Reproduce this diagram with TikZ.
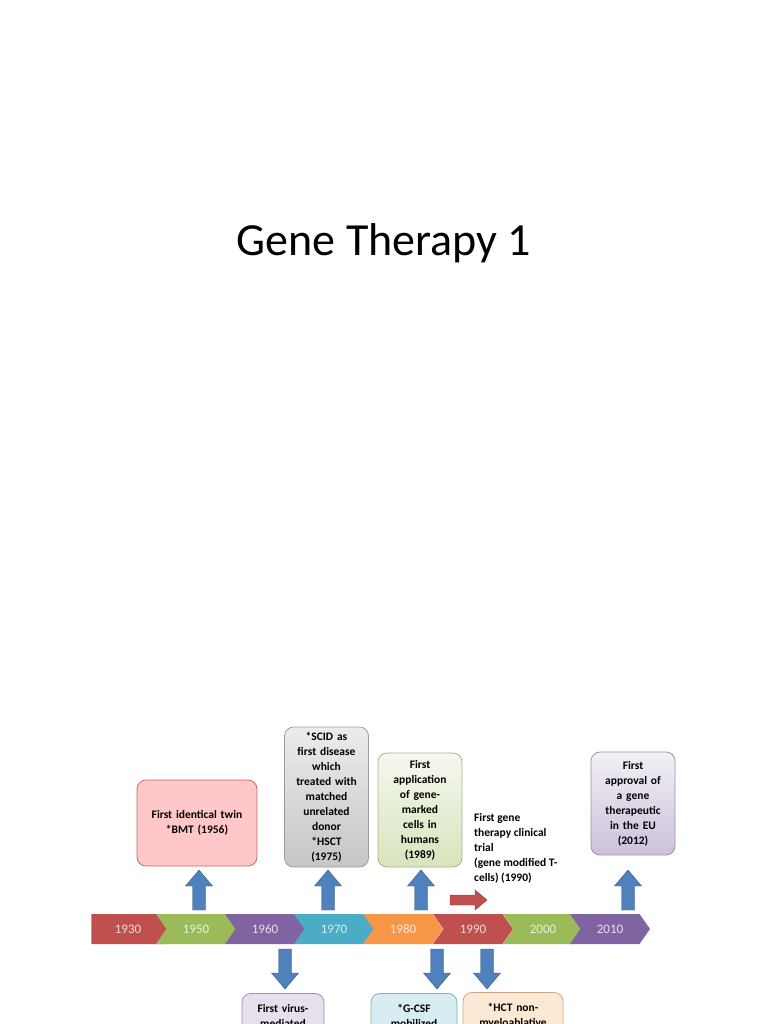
\documentclass[tikz,border=0pt]{standalone}
\usepackage{fontspec}
\setmainfont{Carlito}
\usetikzlibrary{shapes.symbols}
\definecolor{cred}{HTML}{C0504D}
\definecolor{cgreen}{HTML}{9BBB59}
\definecolor{cpurple}{HTML}{8064A2}
\definecolor{ccyan}{HTML}{4BACC6}
\definecolor{corange}{HTML}{F79646}
\definecolor{cblue}{HTML}{4F81BD}
\newcommand\myup[2]{\filldraw[cblue, draw=cblue!70!black, line width=0.4pt] (#1-6.5,#2+20) -- (#1-6.5,#2-4) -- (#1-13.5,#2-4) -- (#1,#2-20) -- (#1+13.5,#2-4) -- (#1+6.5,#2-4) -- (#1+6.5,#2+20) -- cycle;}
\newcommand\mydown[2]{\filldraw[cblue, draw=cblue!70!black, line width=0.4pt] (#1-6.5,#2-20) -- (#1-6.5,#2+4) -- (#1-13.5,#2+4) -- (#1,#2+20) -- (#1+13.5,#2+4) -- (#1+6.5,#2+4) -- (#1+6.5,#2-20) -- cycle;}
\begin{document}
\begin{tikzpicture}[x=1pt,y=-1pt,
  box/.style={draw=#1!70!black!60, rounded corners=9pt, line width=0.8pt, align=center, font=\bfseries\fontsize{11.5}{15}\selectfont, inner sep=2pt},
  seg/.style={signal, signal to=east, signal from=west, signal pointer angle=110, minimum height=30pt, minimum width=80pt, inner sep=0pt, fill=#1, font=\fontsize{13}{14}\selectfont\rmfamily, text=white!80!#1}]
\useasboundingbox (0,0) rectangle (768,1024);
\node[font=\fontsize{46}{50}\selectfont] (title) at (384,243) {Gene Therapy 1};
% timeline
\node[seg=cred, signal from=nowhere, minimum width=84pt] (s1) at (128,929) {1930};
\foreach \i/\c/\t/\x in {2/cgreen/1950/196,3/cpurple/1960/265,4/ccyan/1970/334,5/corange/1980/403,6/cred/1990/473,7/cgreen/2000/543,8/cpurple/2010/610}{
  \node[seg=\c] (s\i) at (\x,929) {\t};
}
% boxes
\node[box=red, fill=red!22, minimum width=120pt, minimum height=86pt, text width=116pt] (b1) at (197,823) {First identical twin\\{*}BMT (1956)};
\node[box=gray, top color=gray!15, bottom color=gray!45, minimum width=83pt, minimum height=140pt, text width=80pt] (b2) at (326.5,797) {{*}SCID as\\first disease\\which\\treated with\\matched\\unrelated\\donor\\{*}HSCT\\(1975)};
\node[box=cgreen, top color=cgreen!10, bottom color=cgreen!40, minimum width=84pt, minimum height=114pt, text width=80pt] (b3) at (420,810) {First\\application\\of gene-\\marked\\cells in\\humans\\(1989)};
\node[box=cpurple, top color=cpurple!10, bottom color=cpurple!40, minimum width=84pt, minimum height=103pt, text width=80pt] (b4) at (633,803.5) {First\\approval of\\a gene\\therapeutic\\in the EU\\(2012)};
\node[align=left, anchor=north west, font=\bfseries\fontsize{11.5}{15}\selectfont, inner sep=0pt] (t1) at (474,813) {First gene\\therapy clinical\\trial\\(gene modified T-\\cells) (1990)};
\node[box=cpurple, fill=cpurple!20, minimum width=80pt, minimum height=60pt, anchor=north, text width=78pt, text depth=30pt] (b5) at (283,993) {First virus-\\mediated};
\node[box=ccyan, fill=ccyan!22, minimum width=84pt, minimum height=60pt, anchor=north, text width=82pt, text depth=30pt] (b6) at (414,993) {{*}G-CSF\\mobilized};
\node[box=corange, fill=corange!22, minimum width=100pt, minimum height=60pt, anchor=north, text width=96pt, text depth=30pt] (b7) at (513,992) {{*}HCT non-\\myeloablative};
% arrows
\myup{199}{890}
\myup{328}{890}
\myup{421}{890}
\myup{628}{890}
\mydown{285}{969}
\mydown{437}{969}
\mydown{487}{969}
\filldraw[cred, draw=cred!70!black, line width=0.4pt] (450,895) -- (475,895) -- (475,890) -- (487,900) -- (475,910) -- (475,905) -- (450,905) -- cycle;
\end{tikzpicture}
\end{document}
